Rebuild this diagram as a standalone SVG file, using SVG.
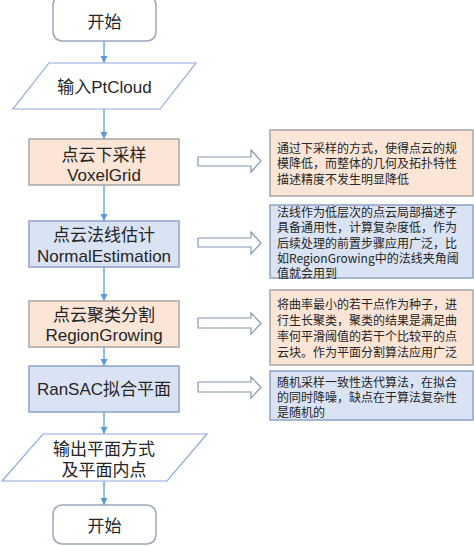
<svg xmlns="http://www.w3.org/2000/svg" width="474" height="546" viewBox="0 0 474 546">
<defs>
<marker id="ah" markerWidth="8" markerHeight="8" refX="7" refY="4" orient="auto" markerUnits="userSpaceOnUse">
<path d="M0,0.5 L7,4 L0,7.5 Z" fill="#5b9bd5"/>
</marker>
<style>
.conn{stroke:#5b9bd5;stroke-width:1.3;fill:none}
.term{fill:#ffffff;stroke:#9aa6b8;stroke-width:1.5}
.io{fill:#ffffff;stroke:#8faadc;stroke-width:1.2}
.peach{fill:#fbe5d6;stroke:#a6a6a6;stroke-width:1.5}
.blue{fill:#dae3f3;stroke:#8ea3c6;stroke-width:1.5}
.rpeach{fill:#fbe5d6;stroke:#a6a6a6;stroke-width:1.5}
.rblue{fill:#dae3f3;stroke:#8ea3c6;stroke-width:1.5}
.blk{fill:#ffffff;stroke:#8497b0;stroke-width:1.2}
.t{font-family:"Liberation Sans","Noto Sans CJK SC",sans-serif;font-size:17px;fill:#262626;text-anchor:middle}
.d{font-family:"Noto Sans CJK SC",sans-serif;font-size:12px;fill:#262626}
</style>
</defs>
<rect width="474" height="546" fill="#ffffff"/>

<g id="connectors">
<line class="conn" x1="104" y1="41" x2="104" y2="63" marker-end="url(#ah)"/>
<line class="conn" x1="104" y1="109" x2="104" y2="139" marker-end="url(#ah)"/>
<line class="conn" x1="104" y1="185" x2="104" y2="221" marker-end="url(#ah)"/>
<line class="conn" x1="104" y1="267" x2="104" y2="301" marker-end="url(#ah)"/>
<line class="conn" x1="104" y1="347" x2="104" y2="366" marker-end="url(#ah)"/>
<line class="conn" x1="104" y1="412" x2="104" y2="434" marker-end="url(#ah)"/>
<line class="conn" x1="104" y1="481" x2="104" y2="505" marker-end="url(#ah)"/>
</g>

<g id="start">
<rect class="term" x="53" y="-4" width="103" height="45" rx="9"/>
<text class="t" x="104.5" y="28">开始</text>
</g>

<g id="input">
<polygon class="io" points="49,63 196,63 160,109 13,109"/>
<text class="t" x="104.5" y="93">输入PtCloud</text>
</g>

<g id="voxelgrid">
<rect class="peach" x="29" y="139" width="150" height="46"/>
<text class="t" x="104" y="161">点云下采样</text>
<text class="t" x="104" y="181">VoxelGrid</text>
</g>

<g id="normal">
<rect class="blue" x="29" y="221" width="150" height="46"/>
<text class="t" x="104" y="241">点云法线估计</text>
<text class="t" x="104" y="262">NormalEstimation</text>
</g>

<g id="region">
<rect class="peach" x="29" y="301" width="150" height="46"/>
<text class="t" x="104" y="321">点云聚类分割</text>
<text class="t" x="104" y="341">RegionGrowing</text>
</g>

<g id="ransac">
<rect class="blue" x="29" y="366" width="150" height="46"/>
<text class="t" x="104" y="395">RanSAC拟合平面</text>
</g>

<g id="output">
<polygon class="io" points="43,434 207,434 167,481 2,481"/>
<text class="t" x="104" y="455">输出平面方式</text>
<text class="t" x="104" y="476">及平面内点</text>
</g>

<g id="end">
<rect class="term" x="53" y="505" width="103" height="39" rx="9"/>
<text class="t" x="104.5" y="532">开始</text>
</g>

<g id="arrow1"><polygon class="blk" points="198,157 251,157 251,150 261,161 251,172 251,166 198,166"/></g>
<g id="arrow2"><polygon class="blk" points="198,238 251,238 251,232 261,243 251,254 251,247 198,247"/></g>
<g id="arrow3"><polygon class="blk" points="198,318 251,318 251,313 261,323.5 251,334 251,328 198,328"/></g>
<g id="arrow4"><polygon class="blk" points="198,382 251,382 251,377 261,387.5 251,398 251,392 198,392"/></g>

<g id="note1">
<rect class="rpeach" x="270" y="130" width="203" height="66"/>
<text class="d" x="277" y="152.5">通过下采样的方式，使得点云的规</text>
<text class="d" x="277" y="168">模降低，而整体的几何及拓扑特性</text>
<text class="d" x="277" y="183.5">描述精度不发生明显降低</text>
</g>

<g id="note2">
<rect class="rblue" x="270" y="205" width="203" height="73"/>
<text class="d" x="277" y="217">法线作为低层次的点云局部描述子</text>
<text class="d" x="277" y="232">具备通用性，计算复杂度低，作为</text>
<text class="d" x="277" y="247.5">后续处理的前置步骤应用广泛，比</text>
<text class="d" x="277" y="263">如RegionGrowing中的法线夹角阈</text>
<text class="d" x="277" y="277.5">值就会用到</text>
</g>

<g id="note3">
<rect class="rpeach" x="270" y="290" width="203" height="75"/>
<text class="d" x="277" y="309">将曲率最小的若干点作为种子，进</text>
<text class="d" x="277" y="325">行生长聚类，聚类的结果是满足曲</text>
<text class="d" x="277" y="341">率何平滑阈值的若干个比较平的点</text>
<text class="d" x="277" y="357">云块。作为平面分割算法应用广泛</text>
</g>

<g id="note4">
<rect class="rblue" x="270" y="371" width="203" height="49"/>
<text class="d" x="277" y="386.5">随机采样一致性迭代算法，在拟合</text>
<text class="d" x="277" y="401.5">的同时降噪，缺点在于算法复杂性</text>
<text class="d" x="277" y="416.5">是随机的</text>
</g>
</svg>
